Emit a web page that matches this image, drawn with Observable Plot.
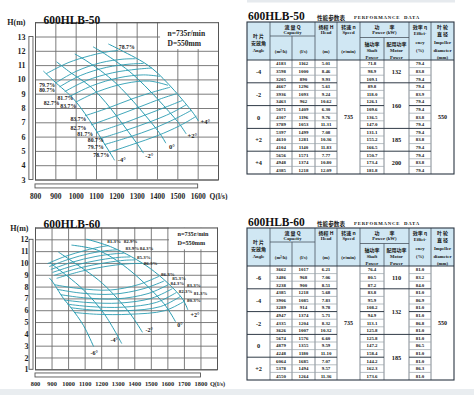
<!DOCTYPE html>
<html><head><meta charset="utf-8">
<script src="https://cdn.jsdelivr.net/npm/d3@7"></script>
<script src="https://cdn.jsdelivr.net/npm/@observablehq/plot@0.6"></script>
<style>
html,body{margin:0;padding:0;background:#fff;}
#root{position:relative;width:474px;height:395px;overflow:hidden;background:#fff;}
</style></head><body><div id="root"></div>
<script>
// ================= DATA =================
// ---- 600HLB-50 chart ----
const q50Ticks = [800,900,1000,1100,1200,1300,1400,1500,1600,1700];
const h50Ticks = [3,4,5,6,7,8,9,10,11,12,13,14];
const angle50 = [
  ["-4°", [[840,10.6],[890,9.93],[1000,8.46],[1162,5.01],[1188,4.4]]],
  ["-2°", [[905,11.25],[962,10.62],[1093,9.24],[1296,5.61],[1330,4.9]]],
  ["0°",  [[995,11.8],[1053,11.31],[1196,9.76],[1409,6.30],[1440,5.6]]],
  ["+2°", [[1085,12.3],[1140,11.83],[1281,10.36],[1499,7.08],[1540,6.25]]],
  ["+4°", [[1160,12.5],[1218,12.09],[1374,10.80],[1571,7.77],[1600,7.15]]]
];
const effUpper50 = [
  ["78.7u", [[855,10.45],[960,11.2],[1070,11.7],[1160,11.98],[1205,12.05]]],
  ["79.7u", [[900,9.8],[1000,10.6],[1120,11.2],[1230,11.45],[1290,11.48]]],
  ["80.7u", [[920,9.53],[1020,10.3],[1150,10.88],[1260,11.1],[1330,11.15]]],
  ["81.7u", [[945,9.19],[1050,9.95],[1180,10.5],[1300,10.75],[1370,10.83]]],
  ["82.7u", [[970,8.86],[1080,9.6],[1210,10.15],[1330,10.35],[1410,10.25]]],
  ["83.7u", [[1000,8.46],[1110,9.2],[1240,9.75],[1360,9.92],[1450,9.63]]]
];
const effLower50 = [
  ["83.7l", [[1045,7.5],[1160,8.05],[1280,8.7],[1390,9.2],[1460,9.48]]],
  ["82.7l", [[1075,6.86],[1190,7.45],[1310,8.1],[1420,8.7],[1490,9.02]]],
  ["81.7l", [[1100,6.33],[1220,6.9],[1340,7.55],[1450,8.15],[1520,8.55]]],
  ["80.7l", [[1120,5.9],[1240,6.45],[1360,7.05],[1470,7.7],[1540,8.25]]],
  ["79.7l", [[1140,5.48],[1260,6.0],[1380,6.6],[1490,7.3],[1565,7.86]]],
  ["78.7l", [[1165,4.95],[1280,5.5],[1400,6.1],[1510,6.8],[1590,7.45]]]
];
const effLabels50 = [
  ["78.7%",1210,12.29],
  ["79.7%",818,9.6],["80.7%",818,9.26],["81.7%",908,8.75],["82.7%",840,8.37],["83.7%",922,8.14],
  ["83.7%",972,7.23],["82.7%",972,6.65],["81.7%",1005,6.23],["80.7%",1057,5.81],["79.7%",1057,5.30],["78.7%",1084,4.71]
];
const angleLabels50 = [["-4°",1205,4.41],["-2°",1340,4.71],["0°",1456,5.3],["+2°",1548,6.11],["+4°",1612,7.04]];
const notes50 = [["n=735r/min",1449,13.22],["D=550mm",1449,12.52]];

// ---- 600HLB-60 chart ----
const q60Ticks = [800,900,1000,1100,1200,1300,1400,1500,1600,1700,1800,1900];
const h60Ticks = [1,2,3,4,5,6,7,8,9,10,11,12,13];
const angle60 = [
  ["-6°", [[885,8.75],[900,8.51],[968,7.06],[1017,6.21],[1090,4.75],[1150,3.0]]],
  ["-4°", [[890,10.05],[914,9.78],[1085,7.83],[1218,5.68],[1320,3.25]]],
  ["-2°", [[940,10.95],[1007,10.32],[1204,8.32],[1374,5.71],[1445,4.2]]],
  ["0°",  [[1020,11.55],[1180,11.10],[1355,9.59],[1576,6.60],[1645,5.1]]],
  ["+2°", [[1110,12.05],[1264,11.36],[1494,9.57],[1685,7.07],[1720,6.1]]]
];
const effUpper60 = [
  ["81.3u", [[875,10.0],[980,10.6],[1100,11.1],[1200,11.42],[1240,11.5]]],
  ["82.9u", [[885,9.75],[1000,10.35],[1130,10.85],[1240,11.1],[1290,11.15]]],
  ["83.9u", [[895,9.5],[1020,10.1],[1160,10.58],[1280,10.82],[1330,10.85]]],
  ["84.3u", [[905,9.25],[1040,9.85],[1190,10.3],[1310,10.52],[1370,10.55]]],
  ["85.3u", [[915,9.0],[1060,9.6],[1220,10.05],[1340,10.27],[1400,10.3]]],
  ["86.3u", [[930,8.75],[1080,9.35],[1250,9.8],[1370,9.98],[1440,10.0]]]
];
const effLower60 = [
  ["86.3l", [[915,8.2],[1050,7.9],[1250,7.75],[1420,8.2],[1545,8.9]]],
  ["85.3l", [[935,7.8],[1070,7.5],[1270,7.4],[1450,7.85],[1575,8.5]]],
  ["84.3l", [[955,7.35],[1090,7.1],[1290,7.0],[1480,7.45],[1600,8.18]]],
  ["83.3l", [[975,6.9],[1110,6.7],[1310,6.65],[1500,7.05],[1625,7.85]]],
  ["82.3l", [[995,6.55],[1130,6.35],[1330,6.3],[1530,6.7],[1650,7.53]]],
  ["81.3l", [[1015,6.25],[1150,6.05],[1350,6.0],[1555,6.35],[1675,7.2]]],
  ["80.3l", [[1035,5.85],[1170,5.7],[1370,5.7],[1580,6.0],[1700,6.8]]]
];
const effLabels60 = [
  ["81.3%",1233,11.86],["82.9%",1334,11.86],["83.9%",1344,11.24],["84.3%",1430,11.3],["85.3%",1414,10.53],["86.3%",1454,9.97],
  ["86.3%",1559,9.04],["85.3%",1626,8.75],["84.3%",1616,8.28],["83.3%",1716,8.14],["82.3%",1666,7.63],["81.3%",1757,7.43],["80.3%",1716,6.87]
];
const angleLabels60 = [["-6°",1132,2.44],["-4°",1253,3.48],["-2°",1465,4.33],["0°",1656,4.75],["+2°",1737,5.6]];
const notes60 = [["n=735r/min",1658,12.53],["D=550mm",1658,11.69]];

// ---- 600HLB-50 table ----
const t50Angles = ["-4","-2","0","+2","+4"];
const t50CapM3 = [4183,3598,3205,4667,3936,3463,5071,4307,3789,5397,4610,4104,5656,4948,4385];
const t50CapLs = [1162,1000,890,1296,1093,962,1409,1196,1053,1499,1281,1140,1571,1374,1218];
const t50Head = [5.01,8.46,9.93,5.61,9.24,10.62,6.30,9.76,11.31,7.08,10.36,11.83,7.77,10.80,12.09];
const t50Shaft = [71.8,98.9,109.1,89.8,118.0,126.1,109.6,136.5,147.0,131.1,155.2,166.5,150.7,173.4,181.8];
const t50Motor = [[132,3],[160,6],[185,3],[200,3]];
const t50Eff = [79.4,83.8,79.4,79.4,83.9,79.4,79.4,83.8,79.4,79.4,83.8,79.4,79.4,83.8,79.4];

// ---- 600HLB-60 table ----
const t60Angles = ["-6","-4","-2","0","+2"];
const t60CapM3 = [3662,3486,3238,4385,3906,3289,4947,4335,3626,5674,4879,4248,6064,5378,4550];
const t60CapLs = [1017,968,900,1218,1085,914,1374,1204,1007,1576,1355,1180,1685,1494,1264];
const t60Head = [6.21,7.06,8.51,5.68,7.83,9.78,5.71,8.32,10.32,6.60,9.59,11.10,7.07,9.57,11.36];
const t60Shaft = [76.4,80.5,87.2,83.8,95.9,108.2,94.9,113.1,125.8,125.8,147.2,158.4,144.2,162.3,173.6];
const t60Motor = [[110,3],[132,6],[185,6]];
const t60Eff = [81.0,83.2,84.0,81.0,86.9,81.0,81.0,86.8,81.0,81.0,86.5,81.0,81.0,86.3,81.0];

const speed = "735";
const impeller = "550";
const headerCells = [
  [0,1,[["叶 片",13,1],["安放角",20.5,1],["Angle",28,0]]],
  [1,3,[["流 量 Q",4.5,1],["Capacity",10.2,0]]],
  [1,2,[["(m³/h)",29,0]]],
  [2,3,[["(l/s)",29,0]]],
  [3,4,[["扬程 H",4.5,1],["Head",10.2,0],["(m)",29,0]]],
  [4,5,[["转速 n",4.5,1],["Speed",10.2,0],["(r/min)",29,0]]],
  [5,7,[["功　　率",4.5,1],["Power  (kW)",10.5,0]]],
  [5,6,[["轴功率",21,1],["Shaft",28,0],["Power",35,0]]],
  [6,7,[["配用功率",21,1],["Motor",28,0],["Power",35,0]]],
  [7,8,[["效率 η",4.5,1],["Effici-",11,0],["ency",20.5,0],["(%)",28,0]]],
  [8,9,[["叶 轮",4.5,1],["直 径",11,1],["Impeller",20.5,0],["diameter",28,0],["(mm)",35,0]]]
];

// ================= CHARTS =================
const teal = "#2b9db2";
const root = document.getElementById("root");
const flat = s => s.flatMap(([id, pts]) => pts.map(([q, h]) => ({id, q, h})));

function drawChart(c) {
  const svg = Plot.plot({
    width: 237, height: c.height,
    marginLeft: 35, marginRight: c.mr, marginTop: c.mt, marginBottom: c.mb,
    x: {domain: [c.xTicks[0], c.xTicks.at(-1)], label: null},
    y: {domain: [c.yTicks[0], c.yTicks.at(-1)], label: null},
    style: {fontFamily: "'Liberation Serif', serif", fontWeight: "bold", color: "#1e1e1e", background: "white", overflow: "visible"},
    marks: [
      Plot.ruleX(c.xTicks, {stroke: "#6e6e6e", strokeWidth: 0.9}),
      Plot.ruleY(c.yTicks, {stroke: "#6e6e6e", strokeWidth: 0.9}),
      Plot.rect([c.box], {x1: d => d[0], x2: d => d[1], y1: d => d[2], y2: d => d[3], fill: "white"}),
      Plot.line(flat(c.effU), {x: "q", y: "h", z: "id", curve: "catmull-rom", stroke: teal, strokeWidth: 0.9}),
      Plot.line(flat(c.effL), {x: "q", y: "h", z: "id", curve: "catmull-rom", stroke: teal, strokeWidth: 0.9}),
      Plot.line(flat(c.angle), {x: "q", y: "h", z: "id", curve: "catmull-rom", stroke: teal, strokeWidth: 1}),
      Plot.frame({stroke: "#555", strokeWidth: 1}),
      Plot.rect([c.yBar], {x1: d => d[0], x2: d => d[1], y1: d => d[2], y2: d => d[3], fill: "white", stroke: "#555", strokeWidth: 0.9}),
      Plot.rect([c.xBar], {x1: d => d[0], x2: d => d[1], y1: d => d[2], y2: d => d[3], fill: "white", stroke: "#555", strokeWidth: 0.9}),
      Plot.text(c.effLabels, {x: d => d[1], y: d => d[2], text: d => d[0], textAnchor: "start", fontSize: c.effFont, fill: "#222"}),
      Plot.text(c.angleLabels, {x: d => d[1], y: d => d[2], text: d => d[0], textAnchor: "start", fontSize: c.angFont, fill: "#222"}),
      Plot.text(c.notes, {x: d => d[1], y: d => d[2], text: d => d[0], textAnchor: "start", fontSize: c.noteFont, fill: "#222"}),
      Plot.axisX(c.xTicks, {tickSize: 0, tickPadding: c.xPad, fontSize: c.xFont, tickFormat: d => d === c.xTicks.at(-1) ? "Q(l/s)" : String(d)}),
      Plot.axisY(c.yTicks, {tickSize: 0, tickPadding: c.yPad, fontSize: 8, tickFormat: d => d === c.yTicks.at(-1) ? "H(m)" : String(d)}),
      Plot.text([c.title], {frameAnchor: "top-left", text: d => d, dx: 8, dy: c.titleDy, fontSize: 11.5, textAnchor: "start", fill: "#111"})
    ]
  });
  svg.style.position = "absolute";
  svg.style.left = "0px";
  svg.style.top = c.top + "px";
  root.appendChild(svg);
}

drawChart({
  title: "600HLB-50", top: 0, height: 200, mt: 22.2, mb: 20.5, mr: 19,
  xTicks: q50Ticks, yTicks: h50Ticks, angle: angle50, effU: effUpper50, effL: effLower50,
  effLabels: effLabels50, angleLabels: angleLabels50, notes: notes50,
  box: [1415, 1700, 12.12, 14], yBar: [770, 790, 3, 13], xBar: [800, 1600, 2.69, 2.41],
  xPad: 14, yPad: 10, xFont: 7.5, effFont: 5.8, angFont: 6.5, noteFont: 7.5, titleDy: -6.5
});
drawChart({
  title: "600HLB-60", top: 200, height: 195, mt: 27.5, mb: 25.7, mr: 20,
  xTicks: q60Ticks, yTicks: h60Ticks, angle: angle60, effU: effUpper60, effL: effLower60,
  effLabels: effLabels60, angleLabels: angleLabels60, notes: notes60,
  box: [1610, 1900, 11.15, 13], yBar: [764, 788, 1, 12], xBar: [800, 1800, 0.69, 0.35],
  xPad: 11.6, yPad: 7, xFont: 6.4, effFont: 5, angFont: 6, noteFont: 6.2, titleDy: -8.5
});

// ================= TABLES =================
const over = d3.select("#root").append("svg")
  .attr("width", 474).attr("height", 395)
  .style("position", "absolute").style("left", "0px").style("top", "0px");
over.append("rect").attr("x", 0).attr("y", 389).attr("width", 474).attr("height", 6).attr("fill", "#e9edf0");
over.append("rect").attr("x", 247).attr("y", 0).attr("width", 208).attr("height", 2.5).attr("fill", "#e6eaee");

const colX = [0,23,45,68,90,113,137,162,184,207];
const SERIF = "'Liberation Serif', serif";
const CJK = "'Noto Sans CJK SC', sans-serif";

function drawTable(t) {
  const L = 247, T = t.top, W = 207, HH = 38, RH = 7.6, N = t.capM3.length;
  const X = i => L + colX[i];
  const g = over.append("g");
  const txt = (s, x, y, size, fam, anchor = "middle", extra = {}) => {
    const e = g.append("text").attr("x", x).attr("y", y).attr("font-size", size)
      .attr("font-family", fam).attr("font-weight", "bold").attr("fill", "#151515")
      .attr("text-anchor", anchor).attr("dominant-baseline", "central").text(s);
    for (const k in extra) e.attr(k, extra[k]);
    return e;
  };
  const ln = (x1, y1, x2, y2, col, w) => g.append("line").attr("x1", x1).attr("y1", y1).attr("x2", x2).attr("y2", y2).attr("stroke", col).attr("stroke-width", w);

  // titles
  txt(t.title, L + 1, T - 6.3, 11.5, SERIF, "start", {"font-weight": "bold", fill: "#111"});
  txt("性能参数表", L + 70, T - 4.2, 5.6, CJK, "start");
  txt("PERFORMANCE", L + 107, T - 4.2, 4.8, SERIF, "start", {"letter-spacing": "0.75"});
  txt("DATA", L + 157, T - 4.2, 4.8, SERIF, "start", {"letter-spacing": "0.75"});

  // header background
  g.append("rect").attr("x", L).attr("y", T).attr("width", W).attr("height", HH).attr("fill", "#d0e7f3");

  // header texts
  for (const [a, b, lines] of headerCells) {
    const cx = (X(a) + X(b)) / 2;
    for (const [s, ry, cj] of lines) txt(s, cx, T + ry, cj ? 5 : 4.7, cj ? CJK : SERIF);
  }

  // data texts
  const rowY = i => T + HH + (i + 0.5) * RH;
  const cc = i => (X(i) + X(i + 1)) / 2;
  for (let i = 0; i < N; i++) {
    txt(String(t.capM3[i]), cc(1), rowY(i), 4.9, SERIF);
    txt(String(t.capLs[i]), cc(2), rowY(i), 4.9, SERIF);
    txt(t.head[i].toFixed(2), cc(3), rowY(i), 4.9, SERIF);
    txt(t.shaft[i].toFixed(1), cc(5), rowY(i), 4.9, SERIF);
    txt(t.eff[i].toFixed(1), cc(7), rowY(i), 4.9, SERIF);
  }
  t.angles.forEach((a, k) => txt(a, cc(0), T + HH + (k * 3 + 1.5) * RH, 6.3, SERIF));
  txt(speed, cc(4), T + HH + N * RH / 2, 6, SERIF);
  txt(impeller, cc(8), T + HH + N * RH / 2, 6, SERIF);
  const motorBounds = new Set();
  let acc = 0;
  for (const [v, n] of t.motor) {
    txt(String(v), cc(6), T + HH + (acc + n / 2) * RH, 6.3, SERIF);
    acc += n;
    motorBounds.add(acc);
  }

  // header lines
  for (let i = 1; i < 9; i++) {
    const y0 = i === 2 ? T + 14 : i === 6 ? T + 15.5 : T;
    ln(X(i), y0, X(i), T + HH, "#4a5560", 0.8);
  }
  ln(X(1), T + 14, X(3), T + 14, "#4a5560", 0.8);
  ln(X(5), T + 15.5, X(7), T + 15.5, "#4a5560", 0.8);

  // data lines
  for (let i = 1; i < 9; i++) ln(X(i), T + HH, X(i), T + HH + N * RH, "#5a646e", 0.75);
  for (let k = 1; k < N; k++) {
    const y = T + HH + k * RH;
    if (k % 3 === 0) {
      ln(X(0), y, X(4), y, "#2f3a46", 1);
      ln(X(5), y, X(6), y, "#2f3a46", 1);
      ln(X(7), y, X(8), y, "#2f3a46", 1);
    } else {
      ln(X(1), y, X(4), y, "#9aa3aa", 0.7);
      ln(X(5), y, X(6), y, "#9aa3aa", 0.7);
      ln(X(7), y, X(8), y, "#9aa3aa", 0.7);
    }
    if (motorBounds.has(k)) ln(X(6), y, X(7), y, "#2f3a46", 1);
  }
  ln(X(0), T + HH, X(9), T + HH, "#2f3a46", 1.1);
  g.append("rect").attr("x", L).attr("y", T).attr("width", W).attr("height", HH + N * RH)
    .attr("fill", "none").attr("stroke", "#2b3642").attr("stroke-width", 1.1);
}

drawTable({title: "600HLB-50", top: 22, angles: t50Angles, capM3: t50CapM3, capLs: t50CapLs, head: t50Head, shaft: t50Shaft, motor: t50Motor, eff: t50Eff});
drawTable({title: "600HLB-60", top: 228, angles: t60Angles, capM3: t60CapM3, capLs: t60CapLs, head: t60Head, shaft: t60Shaft, motor: t60Motor, eff: t60Eff});
</script></body></html>
